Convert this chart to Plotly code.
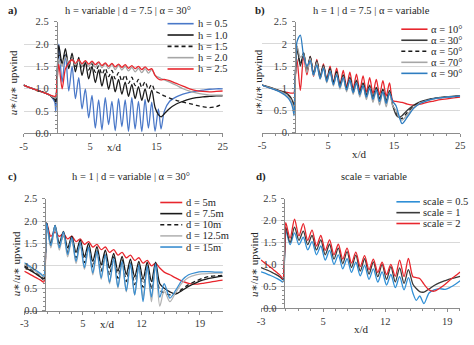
import plotly.graph_objects as go

W, H = 474, 345
FONT = "Times New Roman, Liberation Serif, DejaVu Serif, serif"
INK = "#262626"
TICK_INK = "#3a3a3a"
GRID = "#d9d9d9"
AXIS = "#8c8c8c"

RED = "#e8262d"
BLACK = "#1a1a1a"
DARK = "#3a3a3a"
GRAY = "#a6a6a6"
LIGHT_GRAY = "#b4b4b4"
BLUE_A = "#4a78c8"
BLUE_B = "#2e7dc0"
BLUE_C = "#3a8ed0"
BLUE_D = "#2f8fd6"
DASH = "4px,3px"

# ---- tick labels ----
Y_TICKS = [0, 0.5, 1, 1.5, 2, 2.5]
Y_TEXT_1DP = ["0.0", "0.5", "1.0", "1.5", "2.0", "2.5"]
Y_TEXT_GEN = ["0", "0.5", "1", "1.5", "2", "2.5"]
AB_XTICKS = [-5, 5, 15, 25]
AB_XTEXT = ["-5", "5", "15", "25"]
C_XTICKS = [-2.6, 4.6, 11.8, 19.0]
D_XTICKS = [-2.76, 4.54, 11.84, 19.14]
CD_XTEXT = ["-3", "5", "12", "19"]

# ---- panel a: h = variable | d = 7.5 | alpha = 30 deg ----
XA = [-5, -4, -3, -2, -1.5, -1, -0.6, -0.3, -0.15, 0.05,
      0.3, 0.8, 1.3, 1.8, 2.3, 2.8, 3.3, 3.8, 4.3, 4.8, 5.3, 5.8, 6.3, 6.8, 7.3, 7.8,
      8.3, 8.8, 9.3, 9.8, 10.3, 10.8, 11.3, 11.8, 12.3, 12.8, 13.3, 13.8, 14.3, 14.8,
      15.3, 15.7, 16.2, 17, 18, 19, 20, 21, 22, 23, 24, 25]
A_H05 = [1.08, 1.02, 0.97, 0.92, 0.89, 0.85, 0.78, 0.70, 0.48, 1.20,
         2.00, 1.15, 1.75, 0.95, 1.50, 0.78, 1.25, 0.55, 1.00, 0.35, 0.85, 0.12, 0.75, 0.08,
         0.80, 0.20, 0.72, 0.06, 0.78, 0.15, 0.75, 0.05, 0.80, 0.10, 0.72, 0.04, 0.76, 0.12,
         0.70, 0.05,
         0.55, 0.10, 0.50, 0.72, 0.82, 0.88, 0.92, 0.95, 0.97, 0.99, 1.00, 1.00]
A_H10 = [1.08, 1.02, 0.97, 0.92, 0.89, 0.85, 0.80, 0.76, 0.68, 1.30,
         1.97, 1.55, 1.90, 1.45, 1.80, 1.38, 1.70, 1.30, 1.60, 1.22, 1.50, 1.14, 1.42, 1.06,
         1.35, 0.99, 1.28, 0.93, 1.21, 0.88, 1.15, 0.83, 1.10, 0.78, 1.05, 0.74, 1.00, 0.70,
         0.97, 0.58,
         0.42, 0.37, 0.44, 0.56, 0.66, 0.72, 0.77, 0.80, 0.82, 0.83, 0.84, 0.84]
A_H15 = [1.08, 1.02, 0.97, 0.92, 0.89, 0.85, 0.80, 0.78, 0.76, 1.25,
         1.75, 1.60, 1.80, 1.55, 1.72, 1.50, 1.66, 1.46, 1.61, 1.42, 1.56, 1.37, 1.51, 1.32,
         1.46, 1.27, 1.41, 1.22, 1.36, 1.17, 1.31, 1.12, 1.26, 1.07, 1.21, 1.03, 1.16, 0.99,
         1.10, 0.95,
         0.91, 0.88, 0.84, 0.79, 0.74, 0.70, 0.67, 0.63, 0.60, 0.58, 0.60, 0.66]
A_H20 = [1.08, 1.02, 0.97, 0.92, 0.89, 0.85, 0.81, 0.80, 0.79, 1.20,
         1.65, 1.50, 1.72, 1.55, 1.68, 1.53, 1.65, 1.51, 1.62, 1.50, 1.60, 1.48, 1.58, 1.47,
         1.56, 1.45, 1.55, 1.43, 1.53, 1.42, 1.50, 1.40, 1.48, 1.38, 1.46, 1.36, 1.45, 1.35,
         1.43, 1.30,
         1.26, 1.23, 1.20, 1.15, 1.08, 1.00, 0.95, 0.91, 0.88, 0.86, 0.86, 0.86]
A_H25 = [1.08, 1.02, 0.97, 0.92, 0.89, 0.86, 0.84, 0.83, 0.84, 1.20,
         1.55, 1.00, 1.45, 1.58, 1.65, 1.57, 1.65, 1.56, 1.63, 1.55, 1.62, 1.54, 1.60, 1.52,
         1.58, 1.50, 1.57, 1.49, 1.55, 1.48, 1.54, 1.46, 1.52, 1.45, 1.50, 1.43, 1.49, 1.42,
         1.45, 1.30,
         1.22, 1.20, 1.21, 1.18, 1.12, 1.06, 1.00, 0.96, 0.94, 0.93, 0.94, 0.95]

# ---- panel b: h = 1 | d = 7.5 | alpha = variable ----
XB = XA
B_A10 = [1.07, 1.02, 0.97, 0.93, 0.91, 0.90, 0.89, 0.89, 0.90, 1.25,
         1.65, 0.95, 1.72, 1.30, 1.72, 1.27, 1.65, 1.22, 1.55, 1.18, 1.50, 1.13, 1.45, 1.08,
         1.40, 1.03, 1.36, 0.99, 1.32, 0.95, 1.28, 0.91, 1.24, 0.88, 1.20, 0.85, 1.17, 0.82,
         1.12, 0.72,
         0.70, 0.69, 0.68, 0.64, 0.62, 0.64, 0.68, 0.71, 0.74, 0.76, 0.78, 0.80]
B_A30 = [1.07, 1.03, 0.98, 0.93, 0.90, 0.85, 0.78, 0.68, 0.60, 1.30,
         1.95, 1.50, 1.80, 1.40, 1.72, 1.33, 1.62, 1.27, 1.52, 1.20, 1.45, 1.13, 1.38, 1.07,
         1.30, 1.00, 1.25, 0.95, 1.18, 0.90, 1.12, 0.85, 1.07, 0.80, 1.02, 0.76, 0.98, 0.72,
         0.95, 0.60,
         0.40, 0.34, 0.38, 0.50, 0.62, 0.70, 0.74, 0.77, 0.79, 0.81, 0.82, 0.83]
B_A50 = [1.07, 1.02, 0.97, 0.92, 0.88, 0.83, 0.75, 0.65, 0.55, 1.30,
         1.90, 1.55, 1.78, 1.38, 1.70, 1.30, 1.60, 1.24, 1.50, 1.17, 1.43, 1.10, 1.36, 1.04,
         1.28, 0.97, 1.22, 0.91, 1.15, 0.86, 1.10, 0.80, 1.04, 0.76, 1.00, 0.72, 0.96, 0.68,
         0.92, 0.62,
         0.45, 0.33, 0.32, 0.45, 0.60, 0.68, 0.73, 0.76, 0.79, 0.80, 0.81, 0.82]
B_A70 = [1.07, 1.02, 0.97, 0.91, 0.87, 0.81, 0.72, 0.60, 0.48, 1.30,
         1.95, 1.70, 1.75, 1.35, 1.68, 1.28, 1.58, 1.20, 1.48, 1.12, 1.40, 1.05, 1.33, 0.98,
         1.26, 0.92, 1.20, 0.86, 1.13, 0.80, 1.07, 0.74, 1.02, 0.68, 0.97, 0.62, 0.93, 0.58,
         0.90, 0.60,
         0.50, 0.35, 0.28, 0.40, 0.57, 0.67, 0.72, 0.76, 0.78, 0.80, 0.81, 0.82]
B_A90 = [1.07, 1.01, 0.96, 0.89, 0.84, 0.77, 0.67, 0.52, 0.38, 1.30,
         2.05, 2.20, 1.72, 1.50, 1.62, 1.30, 1.52, 1.22, 1.45, 1.15, 1.38, 1.08, 1.30, 1.02,
         1.24, 0.96, 1.18, 0.90, 1.12, 0.85, 1.06, 0.80, 1.00, 0.75, 0.96, 0.70, 0.92, 0.66,
         0.88, 0.70,
         0.60, 0.40, 0.20, 0.35, 0.55, 0.66, 0.72, 0.76, 0.78, 0.80, 0.81, 0.82]

# ---- panel c: h = 1 | d = variable | alpha = 30 deg ----
XC = [-2.6, -2.1, -1.6, -1.1, -0.6, -0.2, 0.02,
      0.15, 0.66, 1.18, 1.70, 2.21, 2.73, 3.24, 3.76, 4.27, 4.79, 5.30, 5.82, 6.33, 6.85,
      7.36, 7.88, 8.39, 8.91, 9.42, 9.94, 10.45, 10.97, 11.48, 12.00, 12.51, 13.03, 13.54, 14.06,
      14.6, 15.3, 16.0, 16.8, 17.6, 18.5, 19.3, 20.1, 21.0, 21.8]
C_D5 = [0.88, 0.83, 0.78, 0.73, 0.68, 0.64, 1.30,
        1.95, 1.66, 1.76, 1.66, 1.72, 1.60, 1.66, 1.54, 1.60, 1.48, 1.54, 1.42, 1.48, 1.36,
        1.42, 1.30, 1.36, 1.24, 1.30, 1.18, 1.24, 1.12, 1.18, 1.06, 1.12, 1.00, 1.06, 0.95,
        0.86, 0.80, 0.73, 0.66, 0.61, 0.59, 0.61, 0.63, 0.66, 0.68]
C_D75 = [0.97, 0.92, 0.87, 0.81, 0.75, 0.69, 1.30,
         1.95, 1.50, 1.90, 1.50, 1.77, 1.40, 1.66, 1.30, 1.58, 1.20, 1.50, 1.10, 1.43, 1.02,
         1.35, 0.95, 1.28, 0.88, 1.21, 0.81, 1.15, 0.75, 1.10, 0.70, 1.08, 0.65, 1.08, 0.60,
         0.50, 0.42, 0.37, 0.45, 0.54, 0.62, 0.68, 0.72, 0.75, 0.77]
C_D10 = [1.00, 0.95, 0.90, 0.84, 0.78, 0.72, 1.30,
         1.95, 1.45, 1.85, 1.42, 1.70, 1.30, 1.60, 1.18, 1.50, 1.07, 1.42, 0.97, 1.34, 0.88,
         1.26, 0.80, 1.20, 0.72, 1.13, 0.65, 1.07, 0.58, 1.02, 0.52, 1.00, 0.48, 1.00, 0.45,
         0.40, 0.35, 0.38, 0.48, 0.58, 0.66, 0.72, 0.76, 0.78, 0.79]
C_D125 = [1.03, 0.98, 0.92, 0.86, 0.80, 0.75, 1.30,
          1.90, 1.40, 1.88, 1.35, 1.72, 1.20, 1.60, 1.05, 1.48, 0.92, 1.38, 0.80, 1.30, 0.70,
          1.22, 0.60, 1.15, 0.50, 1.08, 0.42, 1.03, 0.35, 1.00, 0.28, 0.98, 0.20, 1.00, 0.10,
          0.45, 0.20, 0.40, 0.62, 0.74, 0.80, 0.82, 0.83, 0.84, 0.84]
C_D15 = [1.07, 1.01, 0.95, 0.89, 0.83, 0.77, 1.30,
         1.95, 1.45, 1.90, 1.40, 1.76, 1.25, 1.63, 1.10, 1.52, 0.96, 1.42, 0.84, 1.33, 0.73,
         1.25, 0.63, 1.17, 0.53, 1.10, 0.44, 1.05, 0.35, 1.02, 0.20, 1.00, 0.30, 1.05, 0.30,
         0.60, 0.28, 0.45, 0.68, 0.80, 0.85, 0.87, 0.87, 0.86, 0.86]

# ---- panel d: scale = variable ----
XD = [-2.76, -2.3, -1.8, -1.3, -0.8, -0.45, -0.2, 0.02,
      0.15, 0.66, 1.18, 1.70, 2.21, 2.73, 3.24, 3.76, 4.27, 4.79, 5.30, 5.82, 6.33, 6.85,
      7.36, 7.88, 8.39, 8.91, 9.42, 9.94, 10.45, 10.97, 11.48, 12.00, 12.51, 13.03, 13.54, 14.06,
      14.57, 15.10,
      15.5, 15.9, 16.4, 17.0, 17.6, 18.2, 18.9, 19.5, 20.1, 20.66]
D_S05 = [0.83, 0.80, 0.76, 0.72, 0.67, 0.63, 0.60, 1.20,
         1.78, 1.45, 1.72, 1.45, 1.62, 1.33, 1.52, 1.22, 1.42, 1.10, 1.32, 1.00, 1.22, 0.90,
         1.13, 0.82, 1.05, 0.74, 0.98, 0.66, 0.90, 0.60, 0.83, 0.53, 0.77, 0.47, 0.72, 0.42,
         0.70, 0.35,
         0.18, 0.28, 0.11, 0.35, 0.42, 0.45, 0.43, 0.48, 0.55, 0.63]
D_S1 = [0.93, 0.89, 0.85, 0.80, 0.75, 0.70, 0.66, 1.25,
        1.85, 1.50, 1.85, 1.55, 1.76, 1.45, 1.66, 1.33, 1.56, 1.22, 1.46, 1.12, 1.37, 1.02,
        1.29, 0.93, 1.21, 0.85, 1.13, 0.78, 1.06, 0.72, 1.00, 0.66, 0.95, 0.60, 0.92, 0.57,
        0.88, 0.55,
        0.45, 0.38, 0.37, 0.44, 0.52, 0.58, 0.63, 0.67, 0.70, 0.73]
D_S2 = [1.10, 1.03, 0.96, 0.88, 0.80, 0.74, 0.68, 1.30,
        1.95, 1.60, 2.03, 1.65, 1.93, 1.55, 1.78, 1.42, 1.66, 1.32, 1.56, 1.22, 1.46, 1.12,
        1.37, 1.03, 1.28, 0.95, 1.20, 0.88, 1.12, 0.82, 1.05, 0.77, 1.00, 0.73, 1.10, 0.72,
        1.14, 0.72,
        0.70, 0.68, 0.55, 0.42, 0.39, 0.45, 0.55, 0.65, 0.74, 0.83]

PANELS = [
    dict(label="a)", title="h = variable | d = 7.5 | α = 30°", x=XA,
         series=[("h = 0.5", A_H05, BLUE_A, None), ("h = 1.0", A_H10, BLACK, None),
                 ("h = 1.5", A_H15, BLACK, DASH), ("h = 2.0", A_H20, GRAY, None),
                 ("h = 2.5", A_H25, RED, None)],
         box=(20, 223, 17.3, 132.7), xr=[-5, 25], xt=AB_XTICKS, xtt=AB_XTEXT,
         minor=(-5, 2), ytt=Y_TEXT_1DP,
         label_xy=(2, 6), title_xy=(126, 6), ytitle_xy=(10, 80), xtitle_xy=(113, 147),
         legend=(166.7, 193.3, 196, 19.3, 11.7)),
    dict(label="b)", title="h = 1 | d = 7.5 | α = variable", x=XB,
         series=[("α = 10°", B_A10, RED, None), ("α = 30°", B_A30, DARK, None),
                 ("α = 50°", B_A50, BLACK, DASH), ("α = 70°", B_A70, GRAY, None),
                 ("α = 90°", B_A90, BLUE_B, None)],
         box=(263, 465, 17.3, 131.7), xr=[-5, 25], xt=AB_XTICKS, xtt=AB_XTEXT,
         minor=(-5, 2), ytt=Y_TEXT_GEN,
         label_xy=(254, 6), title_xy=(375, 6), ytitle_xy=(259, 80), xtitle_xy=(362, 154),
         legend=(405, 431.7, 433.3, 25, 11.4)),
    dict(label="c)", title="h = 1 | d = variable | α = 30°", x=XC,
         series=[("d = 5m", C_D5, RED, None), ("d = 7.5m", C_D75, BLACK, None),
                 ("d = 10m", C_D10, BLACK, DASH), ("d = 12.5m", C_D125, LIGHT_GRAY, None),
                 ("d = 15m", C_D15, BLUE_C, None)],
         box=(20.7, 223, 200, 315.7), xr=[-2.6, 21.8], xt=C_XTICKS, xtt=CD_XTEXT,
         minor=(-2.6, 1.44), ytt=Y_TEXT_1DP,
         label_xy=(2, 177.5), title_xy=(129.5, 177.5), ytitle_xy=(13, 267), xtitle_xy=(105, 329),
         legend=(159.3, 181.7, 183.3, 204, 11.5)),
    dict(label="d)", title="scale = variable", x=XD,
         series=[("scale = 0.5", D_S05, BLUE_D, None), ("scale = 1", D_S1, DARK, None),
                 ("scale = 2", D_S2, RED, None)],
         box=(262, 465, 200, 313.3), xr=[-2.76, 20.66], xt=D_XTICKS, xtt=CD_XTEXT,
         minor=(-2.76, 1.46), ytt=Y_TEXT_1DP,
         label_xy=(255, 177.5), title_xy=(377, 177.5), ytitle_xy=(255.5, 268), xtitle_xy=(364, 335),
         legend=(400, 424, 425, 203.3, 11.2)),
]


def fx(p):
    return p / W


def fy(p):
    return 1 - p / H


fig = go.Figure()
shapes, annotations = [], []
layout = {}

for i, pnl in enumerate(PANELS, start=1):
    xa, ya = ("x", "y") if i == 1 else (f"x{i}", f"y{i}")
    xkey, ykey = ("xaxis", "yaxis") if i == 1 else (f"xaxis{i}", f"yaxis{i}")
    x0, x1, y0, y1 = pnl["box"]
    xr = pnl["xr"]
    # y axis sits where x/d = 0
    zero_px = x0 + (0 - xr[0]) / (xr[1] - xr[0]) * (x1 - x0)

    for name, ys, color, dash in pnl["series"]:
        fig.add_trace(go.Scatter(
            x=pnl["x"], y=ys, mode="lines", name=name, xaxis=xa, yaxis=ya,
            line=dict(color=color, width=1.3, dash=dash, shape="spline", smoothing=0.8),
            showlegend=False, hoverinfo="skip"))

    layout[xkey] = dict(
        domain=[fx(x0), fx(x1)], range=xr, anchor=ya, showgrid=False, zeroline=False,
        showline=True, linecolor=AXIS, linewidth=1, ticks="outside", ticklen=3,
        tickcolor=AXIS, tickmode="array", tickvals=pnl["xt"], ticktext=pnl["xtt"],
        tickfont=dict(family=FONT, size=10.5, color=TICK_INK),
        minor=dict(ticks="outside", ticklen=2, tickcolor=AXIS,
                   tick0=pnl["minor"][0], dtick=pnl["minor"][1], showgrid=False))
    layout[ykey] = dict(
        domain=[fy(y1), fy(y0)], range=[0, 2.5], anchor="free", position=fx(zero_px),
        showgrid=True, gridcolor=GRID, gridwidth=1, zeroline=False,
        showline=True, linecolor=AXIS, linewidth=1, ticks="outside", ticklen=3,
        tickcolor=AXIS, tickmode="array", tickvals=Y_TICKS, ticktext=pnl["ytt"],
        ticklabelstandoff=3,
        tickfont=dict(family=FONT, size=10.5, color=TICK_INK),
        minor=dict(ticks="outside", ticklen=2, tickcolor=AXIS, tick0=0, dtick=0.1,
                   showgrid=False))

    lx, ly = pnl["label_xy"]
    annotations.append(dict(text="<b>" + pnl["label"] + "</b>", x=fx(lx), y=fy(ly),
                            xref="paper", yref="paper", xanchor="left", yanchor="middle",
                            showarrow=False, font=dict(family=FONT, size=11, color=INK)))
    tx, ty = pnl["title_xy"]
    annotations.append(dict(text=pnl["title"], x=fx(tx), y=fy(ty), xref="paper", yref="paper",
                            xanchor="center", yanchor="middle", showarrow=False,
                            font=dict(family=FONT, size=10.5, color=INK)))
    vx, vy = pnl["ytitle_xy"]
    annotations.append(dict(text="<i>u</i>∗/<i>u</i>∗ upwind", x=fx(vx), y=fy(vy),
                            xref="paper", yref="paper", textangle=-90,
                            xanchor="center", yanchor="middle", showarrow=False,
                            font=dict(family=FONT, size=11, color=INK)))
    hx, hy = pnl["xtitle_xy"]
    annotations.append(dict(text="x/d", x=fx(hx), y=fy(hy), xref="paper", yref="paper",
                            xanchor="center", yanchor="middle", showarrow=False,
                            font=dict(family=FONT, size=11, color=INK)))

    # legend: line sample + label per series
    lx0, lx1, ltx, lty, ldy = pnl["legend"]
    for k, (name, _, color, dash) in enumerate(pnl["series"]):
        yy = fy(lty + k * ldy)
        shapes.append(dict(type="line", xref="paper", yref="paper", x0=fx(lx0), x1=fx(lx1),
                           y0=yy, y1=yy,
                           line=dict(color=color, width=1.6, dash=dash or "solid")))
        annotations.append(dict(text=name, x=fx(ltx), y=yy, xref="paper", yref="paper",
                                xanchor="left", yanchor="middle", showarrow=False,
                                font=dict(family=FONT, size=10.5, color=INK)))

fig.update_layout(
    width=W, height=H, margin=dict(l=0, r=0, t=0, b=0),
    paper_bgcolor="white", plot_bgcolor="white",
    font=dict(family=FONT, size=10, color=INK),
    showlegend=False, shapes=shapes, annotations=annotations, **layout)

fig.write_html("out.html")
